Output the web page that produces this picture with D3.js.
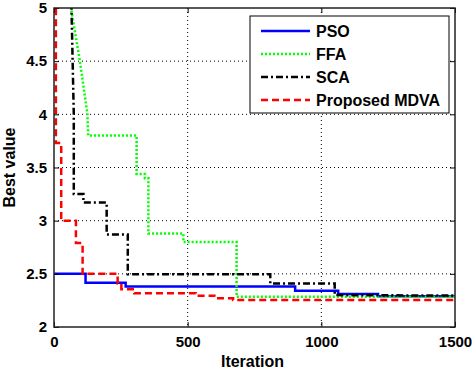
<!DOCTYPE html>
<html>
<head>
<meta charset="utf-8">
<script src="https://cdn.jsdelivr.net/npm/d3@7"></script>
<style>
  body { margin: 0; background: #fff; }
  text { font-family: "Liberation Sans", Arial, sans-serif; font-weight: bold; }
</style>
</head>
<body>
<div id="chart"></div>
<script>
// vertices of each convergence curve (iteration, best value)
const psoIter  = [0, 118, 118, 268, 268, 902, 902, 1063, 1063, 1212, 1212, 1500];
const psoBest  = [2.5, 2.5, 2.415, 2.415, 2.38, 2.38, 2.34, 2.34, 2.31, 2.31, 2.29, 2.29];

const ffaIter  = [60, 97, 125, 128, 309, 309, 340, 340, 353, 353, 484, 484, 683, 683, 1500];
const ffaBest  = [5.05, 4.5, 4.0, 3.8, 3.8, 3.44, 3.44, 3.40, 3.40, 2.88, 2.88, 2.80, 2.80, 2.285, 2.285];

const scaIter  = [65, 74, 74, 110, 110, 197, 197, 276, 276, 809, 809, 1050, 1050, 1500];
const scaBest  = [5.05, 4.0, 3.25, 3.25, 3.17, 3.17, 2.87, 2.87, 2.495, 2.495, 2.41, 2.41, 2.30, 2.295];

const mdvaIter = [7, 7, 27, 27, 82, 82, 107, 107, 238, 238, 252, 252, 300, 300, 530, 530, 600, 600, 670, 670, 1500];
const mdvaBest = [5.1, 3.73, 3.73, 3.0, 3.0, 2.79, 2.79, 2.5, 2.5, 2.41, 2.41, 2.355, 2.355, 2.317, 2.317, 2.295, 2.295, 2.27, 2.27, 2.254, 2.254];

const xTicks = [0, 500, 1000, 1500];
const yTicks = [2, 2.5, 3, 3.5, 4, 4.5, 5];

const series = [
  {name: "PSO", iter: psoIter, best: psoBest, color: "#0000ff", dash: null},
  {name: "FFA", iter: ffaIter, best: ffaBest, color: "#00ff00", dash: "2,2"},
  {name: "SCA", iter: scaIter, best: scaBest, color: "#000000", dash: "7,3,2,3"},
  {name: "Proposed MDVA", iter: mdvaIter, best: mdvaBest, color: "#ff0000", dash: "7,4"}
];

const margin = {top: 8, right: 19, bottom: 43, left: 54};
const width = 474 - margin.left - margin.right;
const height = 370 - margin.top - margin.bottom;

const x = d3.scaleLinear().domain([0, 1500]).range([0, width]);
const y = d3.scaleLinear().domain([2, 5]).range([height, 0]);

const svg = d3.select("#chart")
  .append("svg")
    .attr("width", 474)
    .attr("height", 370)
  .append("g")
    .attr("transform", "translate(" + margin.left + "," + margin.top + ")");

svg.append("defs").append("clipPath").attr("id", "clip")
  .append("rect").attr("width", width).attr("height", height);

// dotted grid
svg.selectAll(".gx").data(xTicks.slice(1, -1)).enter().append("line")
  .attr("x1", d => x(d)).attr("x2", d => x(d))
  .attr("y1", 0).attr("y2", height)
  .attr("stroke", "#000").attr("stroke-width", 1).attr("stroke-dasharray", "1,3");
svg.selectAll(".gy").data(yTicks.slice(1, -1)).enter().append("line")
  .attr("x1", 0).attr("x2", width)
  .attr("y1", d => y(d)).attr("y2", d => y(d))
  .attr("stroke", "#000").attr("stroke-width", 1).attr("stroke-dasharray", "1,3");

// curves
const line = d3.line()
  .x(d => x(d[0]))
  .y(d => y(d[1]));

svg.append("g").attr("clip-path", "url(#clip)")
  .selectAll("path").data(series).enter().append("path")
    .attr("d", s => line(s.iter.map((t, i) => [t, s.best[i]])))
    .attr("fill", "none")
    .attr("stroke", s => s.color)
    .attr("stroke-width", 2.5)
    .attr("stroke-dasharray", s => s.dash);

// axes, ticks on all four sides
const tickStyle = g => {
  g.select(".domain").remove();
  g.selectAll(".tick line").attr("stroke", "#000").attr("stroke-width", 1);
  g.selectAll(".tick text").attr("font-size", 15).attr("fill", "#000");
};

svg.append("g")
  .attr("transform", "translate(0," + height + ")")
  .call(d3.axisBottom(x).tickValues(xTicks).tickSize(-5).tickPadding(9).tickFormat(d3.format("d")))
  .call(tickStyle);
svg.append("g")
  .call(d3.axisTop(x).tickValues(xTicks).tickSize(-5).tickFormat(""))
  .call(tickStyle);
svg.append("g")
  .call(d3.axisLeft(y).tickValues(yTicks).tickSize(-5).tickPadding(7).tickFormat(d3.format("")))
  .call(tickStyle);
svg.append("g")
  .attr("transform", "translate(" + width + ",0)")
  .call(d3.axisRight(y).tickValues(yTicks).tickSize(-5).tickFormat(""))
  .call(tickStyle);

svg.append("rect")
  .attr("width", width).attr("height", height)
  .attr("fill", "none").attr("stroke", "#222").attr("stroke-width", 1.5);

// axis titles
svg.append("text")
  .attr("x", width / 2 - 2).attr("y", height + 40)
  .attr("text-anchor", "middle").attr("font-size", 16)
  .text("Iteration");
svg.append("text")
  .attr("transform", "translate(" + (-39) + "," + (height / 2) + ") rotate(-90)")
  .attr("text-anchor", "middle").attr("font-size", 16)
  .text("Best value");

// legend
const legend = svg.append("g").attr("transform", "translate(" + (width - 205) + ",8)");
legend.append("rect")
  .attr("width", 199).attr("height", 97)
  .attr("fill", "#fff").attr("stroke", "#000").attr("stroke-width", 1);
const item = legend.selectAll(".item").data(series).enter().append("g")
  .attr("transform", (d, i) => "translate(0," + (15 + i * 23) + ")");
item.append("line")
  .attr("x1", 11).attr("x2", 60)
  .attr("stroke", d => d.color).attr("stroke-width", 2.5)
  .attr("stroke-dasharray", d => d.dash);
item.append("text")
  .attr("x", 66).attr("y", 5.5)
  .attr("font-size", 16)
  .text(d => d.name);
</script>
</body>
</html>
